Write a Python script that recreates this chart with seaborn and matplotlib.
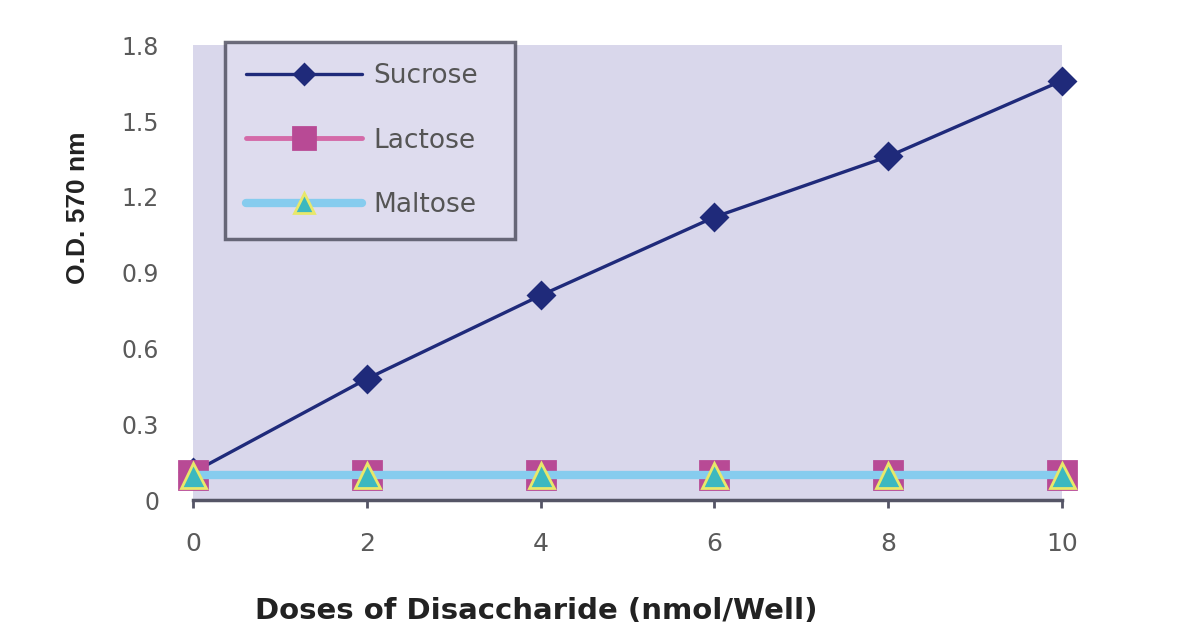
import numpy as np
import pandas as pd
import matplotlib
matplotlib.use("Agg")
import matplotlib.pyplot as plt
import seaborn as sns

doses = [0, 2, 4, 6, 8, 10]
sucrose = [0.11, 0.48, 0.81, 1.12, 1.36, 1.66]
lactose = [0.10, 0.10, 0.10, 0.10, 0.10, 0.10]
maltose = [0.10, 0.10, 0.10, 0.10, 0.10, 0.10]
series_names = ["Sucrose", "Lactose", "Maltose"]
yticks = [0, 0.3, 0.6, 0.9, 1.2, 1.5, 1.8]
ytick_labels = ["0", "0.3", "0.6", "0.9", "1.2", "1.5", "1.8"]

df = pd.DataFrame({
    "dose": doses * 3,
    "od": sucrose + lactose + maltose,
    "series": sum([[n] * len(doses) for n in series_names], []),
})

sns.set_style("white")
plt.rcParams['font.family'] = ['DejaVu Sans']

fig = plt.figure(figsize=(12, 6.29), dpi=100)
ax = fig.add_axes([0.161, 0.205, 0.724, 0.723])
ax.set_facecolor("#d9d7eb")

palette = {"Sucrose": "#1f2a7a", "Lactose": "#d46aa8", "Maltose": "#86ccee"}
markers = {"Sucrose": "D", "Lactose": "s", "Maltose": "^"}
mfc = {"Sucrose": "#1f2a7a", "Lactose": "#b84a95", "Maltose": "#3cb8c0"}
mec = {"Sucrose": "#1f2a7a", "Lactose": "#b84a95", "Maltose": "#e8e86a"}
msize = {"Sucrose": 13, "Lactose": 20, "Maltose": 18}
lw = {"Sucrose": 2.4, "Lactose": 3.5, "Maltose": 6.0}

for name in series_names:
    sub = df[df["series"] == name]
    sns.lineplot(data=sub, x="dose", y="od", ax=ax, color=palette[name],
                 marker=markers[name], markersize=msize[name],
                 markerfacecolor=mfc[name], markeredgecolor=mec[name],
                 markeredgewidth=2, linewidth=lw[name], label=name,
                 clip_on=False, zorder=3)

ax.set_xlim(0, 10)
ax.set_ylim(0, 1.8)
ax.set_xticks(doses)
ax.set_xticklabels([str(d) for d in doses])
ax.set_yticks(yticks)
ax.set_yticklabels(ytick_labels)

for s in ["top", "right", "left"]:
    ax.spines[s].set_visible(False)
ax.spines["bottom"].set_color("#555566")
ax.spines["bottom"].set_linewidth(2.5)

ax.tick_params(axis="x", which="both", bottom=True, length=6, width=2,
               color="#555566", labelsize=18, labelcolor="#5a5a5a", pad=17)
ax.tick_params(axis="y", left=False, labelsize=17, labelcolor="#5a5a5a", pad=21)

ax.set_xlabel("Doses of Disaccharide (nmol/Well)", fontsize=21, fontweight="bold",
              color="#222222")
ax.xaxis.set_label_coords(0.395, -0.213)
ax.set_ylabel("O.D. 570 nm", fontsize=19, fontweight="bold", color="#222222",
              family=["Liberation Sans", "DejaVu Sans"])
ax.yaxis.set_label_coords(-0.119, 0.642)

handles, labels = ax.get_legend_handles_labels()
leg = ax.legend(handles, labels, loc="upper left",
                bbox_to_anchor=(0.0368, 0.0, 0.334, 1.0066), mode="expand",
                frameon=True, fontsize=19, labelspacing=1.45, handlelength=4.4,
                borderpad=0.8, handletextpad=0.4, fancybox=False,
                borderaxespad=0.0, markerscale=0.8)
leg.get_frame().set_edgecolor("#4a4a5a")
leg.get_frame().set_linewidth(2.5)
leg.get_frame().set_facecolor("#e0def0")
for t in leg.get_texts():
    t.set_color("#555555")

fig.savefig("out.png", dpi=100)
